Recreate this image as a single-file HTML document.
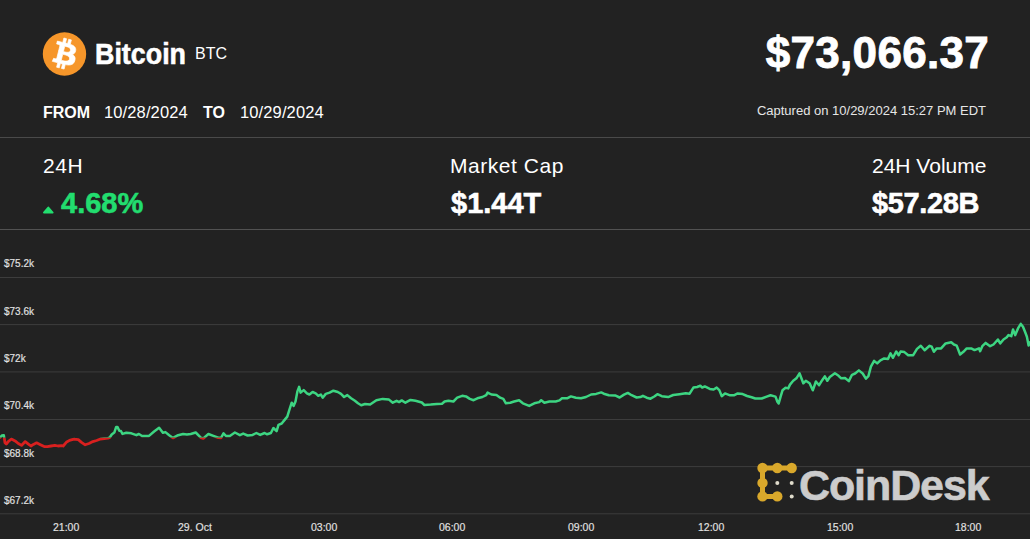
<!DOCTYPE html>
<html><head><meta charset="utf-8">
<style>
html,body{margin:0;padding:0;}
body{width:1030px;height:539px;overflow:hidden;background:#222222;position:relative;font-family:"Liberation Sans",sans-serif;color:#fff;}
.t{position:absolute;white-space:nowrap;line-height:1;}
.b{font-weight:bold;}
.s1{-webkit-text-stroke:0.9px currentColor;}
.s2{-webkit-text-stroke:0.6px currentColor;}
svg{position:absolute;left:0;top:0;}
</style></head>
<body>
<svg width="1030" height="539" viewBox="0 0 1030 539">
  <defs>
    <clipPath id="cg"><rect x="0" y="0" width="1030" height="437.8"/></clipPath>
    <clipPath id="cr"><rect x="0" y="437.8" width="1030" height="102"/></clipPath>
  </defs>
  <rect x="0" y="137" width="1030" height="1" fill="#4a4a4a"/>
  <rect x="0" y="229" width="1030" height="1" fill="#525252"/>
  <g fill="#3d3d3d">
    <rect x="0" y="277" width="1030" height="1"/>
    <rect x="0" y="324.1" width="1030" height="1"/>
    <rect x="0" y="371.4" width="1030" height="1"/>
    <rect x="0" y="419" width="1030" height="1"/>
    <rect x="0" y="466.1" width="1030" height="1"/>
    <rect x="0" y="513.3" width="1030" height="1"/>
  </g>
  <!-- bitcoin logo -->
  <g transform="translate(42.8 32.3) scale(0.678)">
    <circle cx="32" cy="32" r="32" fill="#f6962a"/>
    <path fill="#fff" stroke="#fff" stroke-width="0.9" transform="translate(32 32) scale(1.13) translate(-31.5 -32)" d="m46.11 27.441c0.637-4.258-2.605-6.547-7.038-8.074l1.438-5.768-3.511-0.875-1.4 5.616c-0.923-0.23-1.871-0.447-2.813-0.662l1.41-5.653-3.509-0.875-1.439 5.766c-0.764-0.174-1.514-0.346-2.242-0.527l0.004-0.018-4.842-1.209-0.934 3.75s2.605 0.597 2.55 0.634c1.422 0.355 1.679 1.296 1.636 2.042l-1.638 6.571c0.098 0.025 0.225 0.061 0.365 0.117-0.117-0.029-0.242-0.061-0.371-0.092l-2.296 9.205c-0.174 0.432-0.615 1.08-1.609 0.834 0.035 0.051-2.552-0.637-2.552-0.637l-1.743 4.019 4.569 1.139c0.85 0.213 1.683 0.436 2.503 0.646l-1.453 5.834 3.507 0.875 1.439-5.772c0.958 0.26 1.888 0.5 2.798 0.726l-1.434 5.745 3.511 0.875 1.453-5.823c5.987 1.133 10.489 0.676 12.384-4.739 1.527-4.36-0.076-6.875-3.226-8.515 2.294-0.529 4.022-2.038 4.483-5.155zm-8.022 11.249c-1.085 4.36-8.426 2.003-10.806 1.412l1.928-7.729c2.38 0.594 10.012 1.77 8.878 6.317zm1.086-11.312c-0.99 3.966-7.1 1.951-9.082 1.457l1.748-7.01c1.982 0.494 8.365 1.416 7.334 5.553z"/>
  </g>
  <!-- chart line -->
  <path d="M0 437.5 L2 435.5 L3.8 435.2 L5 442.8 L6.3 444.1 L8.2 441.6 L11.4 439 L15.1 440.9 L18.3 443.5 L21.5 445.4 L25.2 441.6 L28.4 444.1 L30.9 446 L33.4 444.4 L36.6 442.8 L40.4 444.7 L44.2 446.6 L47.3 446.6 L51.1 446 L54.9 445.4 L58 446 L61.8 445.7 L63.2 446 L66.3 442.3 L69.5 440.4 L73.9 439.1 L78.3 439.7 L81.5 442.3 L85.2 444.8 L89 443.5 L92.8 441.6 L96.6 440.5 L100.4 439 L104.2 438.5 L108 438.2 L109.8 437.5 L111.7 434.5 L114.3 432.6 L116.2 426.9 L117.4 426.9 L119.3 430.7 L120.9 431 L122.5 433.9 L126.3 432.7 L131.4 433.3 L136.4 435.2 L138.9 434 L142.1 436 L145.2 435.9 L149 435.9 L154.1 431.5 L159.1 427.7 L162.9 432.7 L165.4 432.1 L169.2 435.2 L173 437.9 L178.1 435.2 L183.1 434 L186.9 434.6 L190.7 434 L195.7 432.5 L200.8 437.6 L203.3 438.4 L208.4 434 L213.4 435.9 L218.4 437.7 L221 437.8 L223.5 433.3 L226 436 L229.8 436 L234.9 432.5 L239.9 435.2 L243.2 433.6 L247.6 435.5 L252.6 434.9 L256.4 433 L260.2 434.9 L264.6 433 L267.1 434.3 L270.9 433 L273.4 428 L276.6 431.1 L278.5 424.8 L281.7 423.5 L284.2 420.4 L287.3 416.6 L289.2 410.3 L291.7 402.7 L293.6 405.9 L295.5 401.5 L297.4 391.4 L299.1 386.9 L300.6 392.6 L303.7 390.1 L306.9 393.3 L309.4 394.5 L312.6 392 L315.7 393.3 L318.3 395.8 L320.8 394.5 L322.7 397.7 L325.8 393.9 L329.6 392.6 L333.4 390.7 L337.8 392 L341 393.9 L344.1 397 L347.3 395.1 L351.1 398.3 L354.9 400.8 L358 403.3 L361.2 405.2 L365 404 L370.1 404.6 L376.4 400.2 L382.7 398.9 L389 399.6 L392.8 402.7 L396.6 400.8 L399.1 402.1 L401.7 400.4 L405.4 402.7 L410.5 399.9 L415.5 400.8 L421.8 402.5 L424.4 405 L430.7 404.6 L437 404 L442 403.7 L444.6 401.5 L448.4 400.8 L453.4 401.5 L457.2 397.7 L462.2 395.8 L466 396.4 L469.8 398.9 L473.6 400.2 L477.4 398.3 L482.4 397 L486.2 395.1 L487.6 392.6 L491.4 394.5 L496.4 394.9 L500.2 397.7 L503.3 398.9 L505.9 403.3 L510.3 402.7 L514.1 401.5 L519.1 400.2 L522.9 403.3 L529.2 405.9 L534.3 403.3 L539.3 402.1 L541.2 400.2 L544.4 402.7 L549.4 401.5 L555.7 401.5 L559.5 400.4 L562 398.3 L567.1 398.3 L570.9 396.4 L575.9 397.7 L581 398.3 L586 397 L591.1 394.5 L596.1 393.9 L601.2 392.4 L603.8 393.7 L608.8 395.2 L615.1 395.4 L619.6 397.5 L624 394.6 L627.8 392.9 L631.6 395.2 L636.6 397.5 L640.4 397.1 L642.9 395.8 L646.7 397.7 L650.5 398.7 L654.3 396.5 L657.4 394.2 L661.8 396.2 L668.2 397.1 L673.2 395 L679.5 394.2 L685.8 393.3 L689.6 393.7 L693.4 387.6 L697.2 387 L700.3 385.7 L702.2 387.6 L704.8 386.4 L709.8 388.9 L713.6 389.5 L716.7 387.6 L719.3 390.1 L721.8 396.2 L725 393.4 L730.1 395.3 L733.9 395.3 L737.7 393.4 L742.7 394.1 L747.1 396 L751.6 397.2 L755.3 398.5 L761.7 398.5 L766.7 396.6 L770.5 395.3 L775.5 396.6 L777.4 401.7 L778.7 403.5 L780.6 396.6 L782.5 390.3 L785.6 387.8 L788.2 388.4 L790 384.6 L793.2 380.8 L796.4 378.3 L799.5 373.3 L803.3 383.3 L805.8 380.8 L809.6 383.3 L812.8 390.3 L815.9 381.5 L819.1 385.2 L822.2 380.2 L824.8 376.4 L827.3 380.8 L829.8 377 L834.9 373.3 L838.6 375.8 L841.2 378.3 L845 378 L848.8 381.1 L852 374.8 L855.1 373.5 L858.9 370.4 L862.7 373.5 L865.9 378.6 L868.4 376.1 L870.9 366.6 L874.1 360.9 L877.2 363.4 L880.4 360.3 L884.2 358.4 L888 359 L890.5 353.3 L893 357.8 L896.2 351.5 L898.7 355.2 L900.6 351.5 L904.4 352.1 L908.2 355.2 L913.2 355.2 L917 348.9 L920.8 345.8 L924.6 350.2 L929.6 345.8 L931.7 346.7 L933.9 351.8 L936.7 348.4 L941.1 348.4 L945.6 343.4 L951.2 342.3 L953.9 344.5 L956.7 345.6 L960.1 354.5 L963.4 351.8 L966.7 348.4 L971.2 348.4 L974.5 350.1 L979 348.4 L980.1 351.2 L982.3 346.2 L985.7 342.9 L990.1 346.2 L993.5 344.5 L997.9 339.5 L1000.2 343.4 L1003.5 339.5 L1006.8 337.3 L1008.5 335.1 L1011.3 336.2 L1013 329.5 L1015.2 335.1 L1018 328.4 L1020.8 323.9 L1023 326.7 L1025.2 332.3 L1026.9 336.7 L1028.6 345.6 L1030 342.3" fill="none" stroke="#3dd582" stroke-width="2.5" stroke-linejoin="round" stroke-linecap="round" clip-path="url(#cg)"/>
  <path d="M0 437.5 L2 435.5 L3.8 435.2 L5 442.8 L6.3 444.1 L8.2 441.6 L11.4 439 L15.1 440.9 L18.3 443.5 L21.5 445.4 L25.2 441.6 L28.4 444.1 L30.9 446 L33.4 444.4 L36.6 442.8 L40.4 444.7 L44.2 446.6 L47.3 446.6 L51.1 446 L54.9 445.4 L58 446 L61.8 445.7 L63.2 446 L66.3 442.3 L69.5 440.4 L73.9 439.1 L78.3 439.7 L81.5 442.3 L85.2 444.8 L89 443.5 L92.8 441.6 L96.6 440.5 L100.4 439 L104.2 438.5 L108 438.2 L109.8 437.5 L111.7 434.5 L114.3 432.6 L116.2 426.9 L117.4 426.9 L119.3 430.7 L120.9 431 L122.5 433.9 L126.3 432.7 L131.4 433.3 L136.4 435.2 L138.9 434 L142.1 436 L145.2 435.9 L149 435.9 L154.1 431.5 L159.1 427.7 L162.9 432.7 L165.4 432.1 L169.2 435.2 L173 437.9 L178.1 435.2 L183.1 434 L186.9 434.6 L190.7 434 L195.7 432.5 L200.8 437.6 L203.3 438.4 L208.4 434 L213.4 435.9 L218.4 437.7 L221 437.8 L223.5 433.3 L226 436 L229.8 436 L234.9 432.5 L239.9 435.2 L243.2 433.6 L247.6 435.5 L252.6 434.9 L256.4 433 L260.2 434.9 L264.6 433 L267.1 434.3 L270.9 433 L273.4 428 L276.6 431.1 L278.5 424.8 L281.7 423.5 L284.2 420.4 L287.3 416.6 L289.2 410.3 L291.7 402.7 L293.6 405.9 L295.5 401.5 L297.4 391.4 L299.1 386.9 L300.6 392.6 L303.7 390.1 L306.9 393.3 L309.4 394.5 L312.6 392 L315.7 393.3 L318.3 395.8 L320.8 394.5 L322.7 397.7 L325.8 393.9 L329.6 392.6 L333.4 390.7 L337.8 392 L341 393.9 L344.1 397 L347.3 395.1 L351.1 398.3 L354.9 400.8 L358 403.3 L361.2 405.2 L365 404 L370.1 404.6 L376.4 400.2 L382.7 398.9 L389 399.6 L392.8 402.7 L396.6 400.8 L399.1 402.1 L401.7 400.4 L405.4 402.7 L410.5 399.9 L415.5 400.8 L421.8 402.5 L424.4 405 L430.7 404.6 L437 404 L442 403.7 L444.6 401.5 L448.4 400.8 L453.4 401.5 L457.2 397.7 L462.2 395.8 L466 396.4 L469.8 398.9 L473.6 400.2 L477.4 398.3 L482.4 397 L486.2 395.1 L487.6 392.6 L491.4 394.5 L496.4 394.9 L500.2 397.7 L503.3 398.9 L505.9 403.3 L510.3 402.7 L514.1 401.5 L519.1 400.2 L522.9 403.3 L529.2 405.9 L534.3 403.3 L539.3 402.1 L541.2 400.2 L544.4 402.7 L549.4 401.5 L555.7 401.5 L559.5 400.4 L562 398.3 L567.1 398.3 L570.9 396.4 L575.9 397.7 L581 398.3 L586 397 L591.1 394.5 L596.1 393.9 L601.2 392.4 L603.8 393.7 L608.8 395.2 L615.1 395.4 L619.6 397.5 L624 394.6 L627.8 392.9 L631.6 395.2 L636.6 397.5 L640.4 397.1 L642.9 395.8 L646.7 397.7 L650.5 398.7 L654.3 396.5 L657.4 394.2 L661.8 396.2 L668.2 397.1 L673.2 395 L679.5 394.2 L685.8 393.3 L689.6 393.7 L693.4 387.6 L697.2 387 L700.3 385.7 L702.2 387.6 L704.8 386.4 L709.8 388.9 L713.6 389.5 L716.7 387.6 L719.3 390.1 L721.8 396.2 L725 393.4 L730.1 395.3 L733.9 395.3 L737.7 393.4 L742.7 394.1 L747.1 396 L751.6 397.2 L755.3 398.5 L761.7 398.5 L766.7 396.6 L770.5 395.3 L775.5 396.6 L777.4 401.7 L778.7 403.5 L780.6 396.6 L782.5 390.3 L785.6 387.8 L788.2 388.4 L790 384.6 L793.2 380.8 L796.4 378.3 L799.5 373.3 L803.3 383.3 L805.8 380.8 L809.6 383.3 L812.8 390.3 L815.9 381.5 L819.1 385.2 L822.2 380.2 L824.8 376.4 L827.3 380.8 L829.8 377 L834.9 373.3 L838.6 375.8 L841.2 378.3 L845 378 L848.8 381.1 L852 374.8 L855.1 373.5 L858.9 370.4 L862.7 373.5 L865.9 378.6 L868.4 376.1 L870.9 366.6 L874.1 360.9 L877.2 363.4 L880.4 360.3 L884.2 358.4 L888 359 L890.5 353.3 L893 357.8 L896.2 351.5 L898.7 355.2 L900.6 351.5 L904.4 352.1 L908.2 355.2 L913.2 355.2 L917 348.9 L920.8 345.8 L924.6 350.2 L929.6 345.8 L931.7 346.7 L933.9 351.8 L936.7 348.4 L941.1 348.4 L945.6 343.4 L951.2 342.3 L953.9 344.5 L956.7 345.6 L960.1 354.5 L963.4 351.8 L966.7 348.4 L971.2 348.4 L974.5 350.1 L979 348.4 L980.1 351.2 L982.3 346.2 L985.7 342.9 L990.1 346.2 L993.5 344.5 L997.9 339.5 L1000.2 343.4 L1003.5 339.5 L1006.8 337.3 L1008.5 335.1 L1011.3 336.2 L1013 329.5 L1015.2 335.1 L1018 328.4 L1020.8 323.9 L1023 326.7 L1025.2 332.3 L1026.9 336.7 L1028.6 345.6 L1030 342.3" fill="none" stroke="#d8201f" stroke-width="2.8" stroke-linejoin="round" stroke-linecap="round" clip-path="url(#cr)"/>
  <!-- triangle -->
  <path d="M44 212.6 L48.3 207.6 L52.6 212.6 Z" fill="#22dd6f" stroke="#22dd6f" stroke-width="2" stroke-linejoin="round"/>
  <!-- coindesk mark -->
  <g fill="#d9a82b" stroke="#d9a82b">
    <path d="M791.7 468 L762.5 468 L762.5 496.4 L777.3 496.4" fill="none" stroke-width="5" stroke-linecap="round" stroke-linejoin="round"/>
    <circle cx="762.5" cy="468" r="5.2" stroke="none"/>
    <circle cx="777.3" cy="468" r="5.2" stroke="none"/>
    <circle cx="791.7" cy="468" r="5.2" stroke="none"/>
    <circle cx="762.5" cy="482.9" r="5.2" stroke="none"/>
    <circle cx="762.5" cy="496.4" r="5.2" stroke="none"/>
    <circle cx="777.3" cy="496.4" r="5.2" stroke="none"/>
  </g>
  <g fill="#e0dccc">
    <circle cx="777.3" cy="482.9" r="2"/>
    <circle cx="791.7" cy="482.9" r="2"/>
    <circle cx="791.7" cy="496.4" r="2"/>
  </g>
</svg>

<div class="t b s2" id="bitcoin" style="left:95px;top:39px;font-size:30px;transform:scaleX(0.895);transform-origin:0 0;">Bitcoin</div>
<div class="t" id="btc" style="left:195px;top:46px;font-size:16px;">BTC</div>
<div class="t b" id="from" style="left:43px;top:104.6px;font-size:16px;">FROM</div>
<div class="t" id="d1" style="left:104px;top:104px;font-size:16.5px;letter-spacing:0.12px;">10/28/2024</div>
<div class="t b" id="to" style="left:203px;top:104.6px;font-size:16px;">TO</div>
<div class="t" id="d2" style="left:240px;top:104px;font-size:16.5px;letter-spacing:0.12px;">10/29/2024</div>
<div class="t b s1" id="price" style="right:41px;top:31px;font-size:44px;letter-spacing:0.3px;">$73,066.37</div>
<div class="t" id="cap" style="right:44px;top:104px;font-size:13px;color:#e6e6e6;">Captured on 10/29/2024 15:27 PM EDT</div>

<div class="t" id="l24" style="left:43px;top:155px;font-size:21px;letter-spacing:0.6px;">24H</div>
<div class="t b s2" id="pct" style="left:61px;top:189px;font-size:29px;color:#22dd6f;">4.68%</div>
<div class="t" id="lmc" style="left:450px;top:155px;font-size:21px;letter-spacing:0.55px;">Market Cap</div>
<div class="t b s2" id="mc" style="left:451px;top:188.5px;font-size:29px;">$1.44T</div>
<div class="t" id="lvol" style="left:872px;top:155px;font-size:21px;">24H Volume</div>
<div class="t b s2" id="vol" style="left:872px;top:188.5px;font-size:29px;letter-spacing:-0.35px;">$57.28B</div>

<div class="t" id="y1" style="left:4px;top:259px;font-size:10px;color:#e2e2e2;-webkit-text-stroke:0.15px #e2e2e2;">$75.2k</div>
<div class="t" id="y2" style="left:4px;top:306.5px;font-size:10px;color:#e2e2e2;-webkit-text-stroke:0.15px #e2e2e2;">$73.6k</div>
<div class="t" id="y3" style="left:4px;top:354px;font-size:10px;color:#e2e2e2;-webkit-text-stroke:0.15px #e2e2e2;">$72k</div>
<div class="t" id="y4" style="left:4px;top:401.3px;font-size:10px;color:#e2e2e2;-webkit-text-stroke:0.15px #e2e2e2;">$70.4k</div>
<div class="t" id="y5" style="left:4px;top:448.7px;font-size:10px;color:#e2e2e2;-webkit-text-stroke:0.15px #e2e2e2;">$68.8k</div>
<div class="t" id="y6" style="left:4px;top:496px;font-size:10px;color:#e2e2e2;-webkit-text-stroke:0.15px #e2e2e2;">$67.2k</div>

<div class="t" id="x1" style="left:53px;top:521.5px;font-size:10.5px;color:#e2e2e2;-webkit-text-stroke:0.15px #e2e2e2;">21:00</div>
<div class="t" id="x2" style="left:178px;top:521.5px;font-size:10.5px;color:#e2e2e2;-webkit-text-stroke:0.15px #e2e2e2;">29. Oct</div>
<div class="t" id="x3" style="left:311px;top:521.5px;font-size:10.5px;color:#e2e2e2;-webkit-text-stroke:0.15px #e2e2e2;">03:00</div>
<div class="t" id="x4" style="left:439px;top:521.5px;font-size:10.5px;color:#e2e2e2;-webkit-text-stroke:0.15px #e2e2e2;">06:00</div>
<div class="t" id="x5" style="left:568px;top:521.5px;font-size:10.5px;color:#e2e2e2;-webkit-text-stroke:0.15px #e2e2e2;">09:00</div>
<div class="t" id="x6" style="left:698px;top:521.5px;font-size:10.5px;color:#e2e2e2;-webkit-text-stroke:0.15px #e2e2e2;">12:00</div>
<div class="t" id="x7" style="left:827px;top:521.5px;font-size:10.5px;color:#e2e2e2;-webkit-text-stroke:0.15px #e2e2e2;">15:00</div>
<div class="t" id="x8" style="left:955px;top:521.5px;font-size:10.5px;color:#e2e2e2;-webkit-text-stroke:0.15px #e2e2e2;">18:00</div>

<div class="t b s2" id="cd" style="left:799px;top:463.5px;font-size:43px;letter-spacing:-1.1px;color:#cccccc;">CoinDesk</div>
</body></html>
